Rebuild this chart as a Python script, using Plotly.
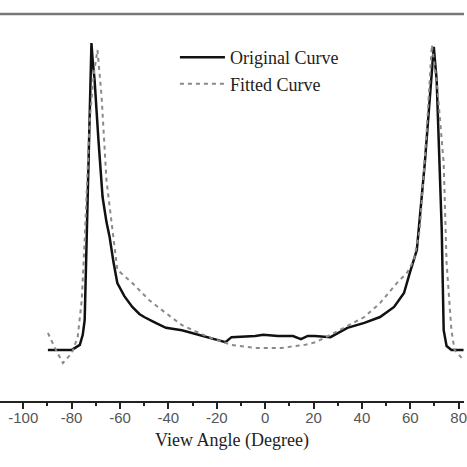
import plotly.graph_objects as go

# View angle (degree) and relative intensity (arbitrary units)
orig_angle = [-89.8, -79.9, -76.6, -75.4, -74.6, -73.4, -72.5, -71.8, -71.3, -70.5,
              -68.9, -67.2, -65.6, -64.3, -62.7, -61.1, -58.2, -54.9, -52.0, -50.0,
              -45.9, -41.0, -34.4, -27.5, -20.5, -16.4, -13.9, -4.1, -0.8, 5.3,
              11.5, 14.8, 17.6, 20.5, 27.0, 34.0, 41.0, 47.5, 53.3, 57.4,
              59.8, 62.7, 66.0, 68.0, 69.7, 70.9, 71.7, 73.0, 73.8, 75.0,
              77.0, 82.0]
orig_value = [13.2, 13.2, 14.5, 17.1, 20.9, 51.9, 77.8, 92.5, 88.1, 82.9,
              67.4, 52.7, 46.3, 42.4, 35.9, 30.5, 27.1, 24.3, 22.5, 21.7,
              20.4, 18.9, 18.3, 17.1, 16.0, 15.2, 16.5, 16.8, 17.1, 16.8,
              16.8, 16.0, 16.8, 16.8, 16.5, 18.9, 20.2, 21.7, 24.3, 27.9,
              33.1, 39.0, 61.5, 77.8, 91.5, 82.9, 70.0, 44.2, 18.3, 14.2,
              13.2, 13.2]

fit_angle = [-89.8, -86.9, -83.6, -79.9, -77.5, -75.8, -74.6, -72.5, -70.9, -69.3,
             -67.6, -65.6, -63.1, -61.1, -54.9, -48.0, -41.0, -34.4, -23.4, -13.9,
             -4.1, 6.6, 16.4, 20.9, 27.0, 34.0, 41.0, 47.5, 54.5, 58.6,
             61.5, 63.9, 66.8, 68.9, 70.9, 73.8, 75.0, 77.0, 78.3, 82.0]
fit_value = [17.6, 13.7, 9.8, 12.4, 16.5, 26.1, 41.6, 72.6, 84.2, 90.7,
             78.6, 57.1, 44.2, 33.9, 30.5, 26.1, 22.7, 19.6, 16.5, 14.5,
             13.7, 13.7, 14.5, 15.2, 17.1, 19.4, 21.7, 25.3, 30.5, 33.1,
             36.4, 44.2, 70.0, 92.0, 82.9, 61.5, 35.7, 18.3, 13.2, 10.6]

x_ticks = [-100, -80, -60, -40, -20, 0, 20, 40, 60, 80]
x_tick_labels = ["-100", "-80", "-60", "-40", "-20", "0", "20", "40", "60", "80"]

fig = go.Figure()
fig.add_trace(go.Scatter(x=orig_angle, y=orig_value, mode="lines", name="Original Curve",
                         line=dict(color="#111111", width=2.5)))
fig.add_trace(go.Scatter(x=fit_angle, y=fit_value, mode="lines", name="Fitted Curve",
                         line=dict(color="#8a8a8a", width=2, dash="4px,4px")))

fig.update_layout(
    width=467, height=467,
    margin=dict(l=0, r=0, t=14, b=66),
    plot_bgcolor="white", paper_bgcolor="white",
    showlegend=True,
    legend=dict(x=0.377, y=0.935, xanchor="left", yanchor="top",
                bgcolor="rgba(0,0,0,0)", itemwidth=45,
                font=dict(family="Liberation Serif", size=18, color="#222222")),
    xaxis=dict(range=[-109.6, 82.2], tickvals=x_ticks, ticktext=x_tick_labels,
               ticks="outside", ticklen=6,
               tickwidth=1.5, tickcolor="#222222", showline=True, linecolor="#222222",
               linewidth=1.5, showgrid=False, zeroline=False,
               ticklabelstandoff=-4, ticklabeloverflow="allow",
               tickfont=dict(family="Liberation Sans", size=15, color="#555555"),
               minor=dict(dtick=10, tick0=0, ticks="outside", ticklen=3,
                          tickwidth=1.5, tickcolor="#222222"),
               title=dict(text="View Angle (Degree)", standoff=9,
                          font=dict(family="Liberation Serif", size=18, color="#222222"))),
    yaxis=dict(range=[0, 100], showticklabels=False, showline=False,
               showgrid=False, zeroline=False, ticks=""),
    shapes=[dict(type="line", xref="paper", yref="paper", x0=0, x1=1, y0=1, y1=1,
                 line=dict(color="#777777", width=2.5))],
)

fig.write_html("out.html")
